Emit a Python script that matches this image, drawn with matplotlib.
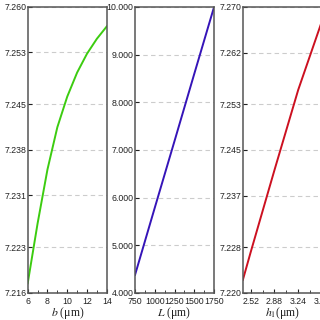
import numpy as np
import matplotlib
matplotlib.use("Agg")
import matplotlib.pyplot as plt
from matplotlib.ticker import FormatStrFormatter, AutoMinorLocator

plt.rcParams["font.family"] = ["Liberation Sans", "DejaVu Sans"]
plt.rcParams["mathtext.fontset"] = "stix"

# panel 1: b (um)
b_vals = [6, 7, 8, 9, 10, 11, 12, 13, 14]
b_neff = [7.2175, 7.2267, 7.2350, 7.2415, 7.2462, 7.2499, 7.2528, 7.2551, 7.2570]
b_yticks = [7.216, 7.223, 7.231, 7.238, 7.245, 7.253, 7.260]
b_xticks = [6, 8, 10, 12, 14]

# panel 2: L (um)
L_vals = [750, 1000, 1250, 1500, 1750]
L_out = [4.38, 5.79, 7.19, 8.60, 10.0]
L_yticks = [4.0, 5.0, 6.0, 7.0, 8.0, 9.0, 10.0]
L_xticks = [750, 1000, 1250, 1500, 1750]

# panel 3: h1 (um)
h_vals = [2.40, 2.52, 2.88, 3.24, 3.60]
h_neff = [7.2223, 7.2272, 7.2415, 7.2555, 7.2675]
h_yticks = [7.220, 7.228, 7.237, 7.245, 7.253, 7.262, 7.270]
h_xticks = [2.52, 2.88, 3.24, 3.60]

fig = plt.figure(figsize=(3.2, 3.2), dpi=100)

panels = [
    (0.0866, b_vals, b_neff, "#3ccc10", b_yticks, b_xticks, (6, 14), "%d", r"$b$ (μm)"),
    (0.4220, L_vals, L_out, "#3514b8", L_yticks, L_xticks, (750, 1750), "%d", r"$L$ (μm)"),
    (0.7590, h_vals, h_neff, "#cc1020", h_yticks, h_xticks, (2.4, 3.6), "%.2f", r"$h_1$(μm)"),
]

for left, x, y, col, yt, xt, xl, xfmt, xlab in panels:
    ax = fig.add_axes([left, 0.0844, 0.247, 0.894])
    ax.plot(x, y, color=col, lw=1.4)
    ax.set_xlim(*xl)
    ax.set_ylim(yt[0], yt[-1])
    ax.set_yticks(yt)
    ax.set_xticks(xt)
    ax.yaxis.set_major_formatter(FormatStrFormatter("%.3f"))
    ax.xaxis.set_major_formatter(FormatStrFormatter(xfmt))
    ax.xaxis.set_minor_locator(AutoMinorLocator(2))
    ax.grid(axis="y", color="#cccccc", ls=(0, (4, 3)), lw=0.8)
    ax.tick_params(axis="both", which="both", direction="in", labelsize=6.3,
                   colors="#222222")
    ax.tick_params(axis="both", which="major", length=3)
    ax.tick_params(axis="both", which="minor", length=2)
    ax.tick_params(axis="y", pad=1)
    ax.tick_params(axis="x", pad=3)
    for s in ax.spines.values():
        s.set_color("#555555")
        s.set_linewidth(1.1)
    ax.set_xlabel(xlab, fontsize=8.5, labelpad=-1, color="#222222",
                  family=["Liberation Serif", "DejaVu Serif"])

fig.savefig("out.png", dpi=100)
